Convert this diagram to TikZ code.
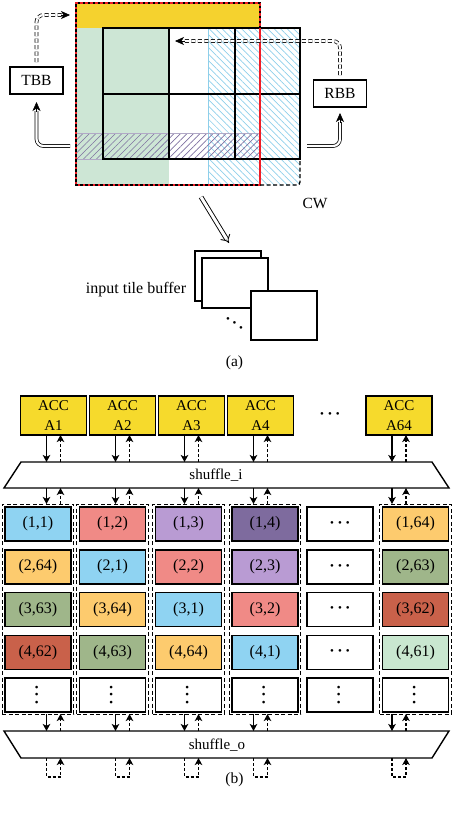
\documentclass[tikz,border=0pt]{standalone}
\usepackage{graphicx}
\usepackage{fontspec}
\setmainfont{Liberation Serif}
\usetikzlibrary{arrows.meta,patterns.meta,calc}
\definecolor{ayellow}{HTML}{F5D22E}
\definecolor{accyellow}{HTML}{F6DA2C}
\definecolor{agreen}{HTML}{CDE6D5}
\definecolor{hblue}{HTML}{8ECFEA}
\definecolor{hpurple}{HTML}{7E70A0}
\definecolor{ared}{HTML}{EE1C25}
\definecolor{cblue}{HTML}{8FD3F2}
\definecolor{csalmon}{HTML}{F08A86}
\definecolor{clav}{HTML}{B99BD3}
\definecolor{cdpurple}{HTML}{7E6B9E}
\definecolor{corange}{HTML}{FDCB6E}
\definecolor{csage}{HTML}{9FB68A}
\definecolor{cbrick}{HTML}{C9614A}
\definecolor{clgreen}{HTML}{C9E7D0}
\newcommand\mydots[1]{{\fontsize{11}{11}\selectfont\textbullet\hspace{#1}\textbullet\hspace{#1}\textbullet}}
\newcommand\myvdots{\rotatebox{90}{\mydots{3.5pt}}}
\begin{document}
\begin{tikzpicture}[x=1pt,y=-1pt,
 every node/.style={inner sep=0pt,outer sep=0pt},
 lbl/.style={font=\fontsize{15.5}{18}\selectfont},
 bbox/.style={draw,line width=1.3pt,minimum width=53pt,minimum height=27pt,font=\fontsize{15.5}{18}\selectfont},
 buf/.style={draw,fill=white,line width=1.4pt,minimum width=66pt,minimum height=50pt},
 dbl/.style={double,double distance=2.2pt,line width=0.75pt},
 ddbl/.style={dbl,dash pattern=on 4pt off 2.5pt},
 bigtip/.style={line width=0.6pt,-{Stealth[length=9pt,width=8pt,inset=2.5pt]}},
 acc/.style={draw,fill=accyellow,line width=1.4pt,minimum width=66pt,minimum height=39pt,align=center,font=\fontsize{15}{20}\selectfont},
 cell/.style={draw,line width=1.6pt,minimum width=66pt,minimum height=34pt,font=\fontsize{16}{18}\selectfont},
 colbox/.style={draw,line width=1pt,dash pattern=on 4pt off 2.5pt,minimum width=71.5pt,minimum height=210pt},
 arr/.style={line width=1.1pt,-{Stealth[length=7pt,width=7.5pt,inset=1.8pt]}},
 darr/.style={arr,dash pattern=on 3pt off 2pt},
 shuf/.style={draw,line width=1.4pt,fill=white},
 dotn/.style={font=\fontsize{11}{11}\selectfont}
]
\useasboundingbox (0,0) rectangle (474,815);

% ---------------- (a) ----------------
\fill[ayellow] (76,3) rectangle (260,28);
\fill[agreen] (76,28) rectangle (169,185);
\path[pattern={Lines[angle=-45,distance=4.6pt,line width=0.7pt]},pattern color=hblue] (208,28) rectangle (300,185);
\draw[hblue,line width=0.8pt] (208,28) -- (208,185);
\path[pattern={Lines[angle=45,distance=4.6pt,line width=0.6pt]},pattern color=hpurple] (76,133) rectangle (260,159);
\draw[hpurple!60,line width=0.6pt] (76,133) -- (260,133) (76,159) -- (260,159);
\draw[line width=1.6pt] (103,28) rectangle (300,159) (169,28) -- (169,159) (235,28) -- (235,159) (103,94) -- (300,94);
\draw[ared,line width=1.5pt] (76,3) rectangle (260,185);
\draw[line width=1.5pt,dash pattern=on 2.5pt off 2.5pt] (260,28) -- (260,3) -- (76,3) -- (76,185) -- (260,185);
\draw[line width=1.3pt,dash pattern=on 4pt off 2.5pt,rounded corners=3pt] (260,185) -- (300,185) -- (300,159);

\node[bbox] (tbb) at (36.5,80.5) {TBB};
\node[bbox] (rbb) at (340,93.5) {RBB};
\coordinate (bandL) at (70,146);
\coordinate (bandR) at (307,146);
\coordinate (gridIn) at (175,41);
\coordinate (boxIn) at (70,15);

\draw[dbl,rounded corners=7pt] (bandL) -| ($(tbb.south)+(0,17)$);
\draw[bigtip] ($(tbb.south)+(0,17.5)$) -- ($(tbb.south)+(0,8)$);
\draw[ddbl,rounded corners=7pt] ($(tbb.north)+(0,-5)$) |- ($(boxIn)+(-8,0)$);
\draw[bigtip] ($(boxIn)+(-9.5,0)$) -- (boxIn);

\draw[dbl,rounded corners=7pt] (bandR) -| ($(rbb.south)+(0,15)$);
\draw[bigtip] ($(rbb.south)+(0,15.5)$) -- ($(rbb.south)+(0,6)$);
\draw[ddbl,rounded corners=7pt] ($(rbb.north)+(0,-5)$) |- ($(gridIn)+(8,0)$);
\draw[bigtip] ($(gridIn)+(9.5,0)$) -- (gridIn);

\node[lbl] (cw) at (315,203) {CW};
\coordinate (dgS) at (201,197);
\coordinate (dgE) at (229,243);
\draw[double,double distance=3pt,line width=0.9pt,-{Implies}] (dgS) -- (dgE);

\node[buf] (b1) at (228,276) {};
\node[buf] (b2) at (235,283) {};
\node[buf,minimum height=49pt] (b3) at (284,315.5) {};
\node[font=\fontsize{16}{18}\selectfont] (itb) at (136,290) {input tile buffer};
\node[dotn] (dd1) at (228,320) {\textbullet};
\node[dotn] (dd2) at (234.5,324.5) {\textbullet};
\node[dotn] (dd3) at (241,329) {\textbullet};
\node[lbl] (capa) at (234.5,363) {(a)};

% ---------------- (b) ----------------
\node[acc] (a1) at (53.5,415.5) {ACC\\A1};
\node[acc] (a2) at (122.5,415.5) {ACC\\A2};
\node[acc] (a3) at (191.5,415.5) {ACC\\A3};
\node[acc] (a4) at (260.5,415.5) {ACC\\A4};
\node[acc] (a64) at (399,415.5) {ACC\\A64};
\node (accdots) at (330,415) {\mydots{4pt}};

\draw[shuf] (21,462) -- (432,462) -- (449,488) -- (4,488) -- cycle;
\node[font=\fontsize{15}{16}\selectfont] (si) at (216,475) {shuffle\_i};
\coordinate (siT) at (226,462);
\coordinate (siB) at (226,488);

\draw[shuf] (4,731) -- (449,731) -- (432,758) -- (21,758) -- cycle;
\node[font=\fontsize{15}{16}\selectfont] (so) at (217,745) {shuffle\_o};
\coordinate (soT) at (226,731);
\coordinate (soB) at (226,758);

\foreach \nm/\x in {k1/38,k2/112.5,k3/188.5,k4/265,k6/415.5}
  \node[colbox] (\nm) at (\x,609) {};

\foreach \nm/\x/\y/\c/\t in {
 r1c1/38/524/cblue/{(1,1)}, r1c2/112.5/524/csalmon/{(1,2)}, r1c3/188.5/524/clav/{(1,3)}, r1c4/265/524/cdpurple/{(1,4)}, r1c5/340/524/white/{\mydots{4pt}}, r1c6/415.5/524/corange/{(1,64)},
 r2c1/38/567/corange/{(2,64)}, r2c2/112.5/567/cblue/{(2,1)}, r2c3/188.5/567/csalmon/{(2,2)}, r2c4/265/567/clav/{(2,3)}, r2c5/340/567/white/{\mydots{4pt}}, r2c6/415.5/567/csage/{(2,63)},
 r3c1/38/609.5/csage/{(3,63)}, r3c2/112.5/609.5/corange/{(3,64)}, r3c3/188.5/609.5/cblue/{(3,1)}, r3c4/265/609.5/csalmon/{(3,2)}, r3c5/340/609.5/white/{\mydots{4pt}}, r3c6/415.5/609.5/cbrick/{(3,62)},
 r4c1/38/652.5/cbrick/{(4,62)}, r4c2/112.5/652.5/csage/{(4,63)}, r4c3/188.5/652.5/corange/{(4,64)}, r4c4/265/652.5/cblue/{(4,1)}, r4c5/340/652.5/white/{\mydots{4pt}}, r4c6/415.5/652.5/clgreen/{(4,61)},
 r5c1/38/695/white/{\myvdots}, r5c2/112.5/695/white/{\myvdots}, r5c3/188.5/695/white/{\myvdots}, r5c4/265/695/white/{\myvdots}, r5c5/340/695/white/{\myvdots}, r5c6/415.5/695/white/{\myvdots}}
  \node[cell,fill=\c] (\nm) at (\x,\y) {\t};

\foreach \a/\k in {a1/k1,a2/k2,a3/k3,a4/k4,a64/k6}{
  \draw[arr] ($(\a.south)+(-7,0)$) -- ($(\a.south |- siT)+(-7,0)$);
  \draw[darr] ($(\a.south |- siT)+(7,0)$) -- ($(\a.south)+(7,0)$);
  \draw[arr] ($(\a.south |- siB)+(-7,0)$) -- ($(\a.south |- \k.north)+(-7,0)$);
  \draw[darr] ($(\a.south |- \k.north)+(7,0)$) -- ($(\a.south |- siB)+(7,0)$);
  \draw[arr] ($(\a.south |- \k.south)+(-7,0)$) -- ($(\a.south |- soT)+(-7,0)$);
  \draw[darr] ($(\a.south |- soT)+(7,0)$) -- ($(\a.south |- \k.south)+(7,0)$);
  \draw[darr] ($(\a.south |- soB)+(-7,0)$) -- ++(0,19) -| ($(\a.south |- soB)+(7,0)$);
}
\node[lbl] (capb) at (234.5,780) {(b)};
\end{tikzpicture}
\end{document}
